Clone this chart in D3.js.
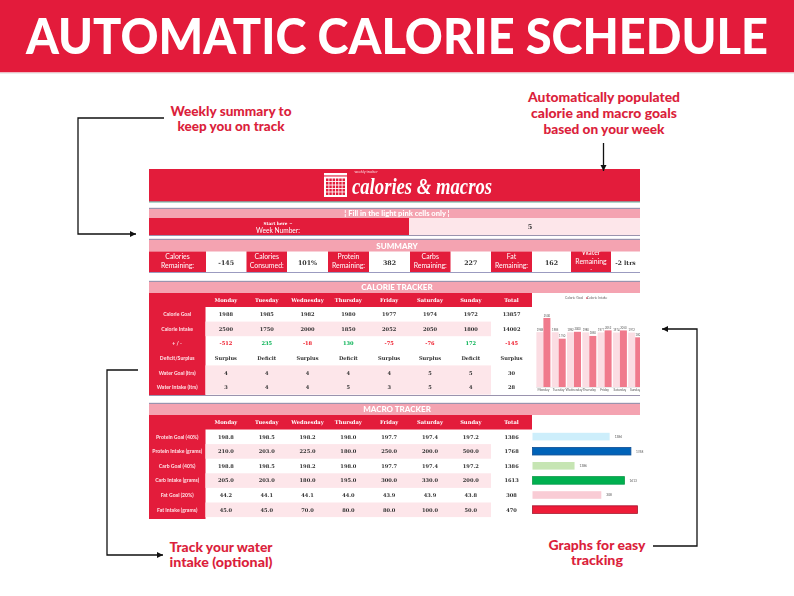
<!DOCTYPE html>
<html><head><meta charset="utf-8">
<script src="https://cdn.jsdelivr.net/npm/d3@7/dist/d3.min.js"></script>
<style>html,body{margin:0;padding:0;background:#fff}svg{display:block}</style></head>
<body><svg id="c" width="794" height="596"></svg>
<script>
const titleText = "AUTOMATIC CALORIE SCHEDULE";
const days = ["Monday","Tuesday","Wednesday","Thursday","Friday","Saturday","Sunday"];
const columns = [...days,"Total"];
const summaryLabels = [["Calories","Remaining:"],["Calories","Consumed:"],["Protein","Remaining:"],["Carbs","Remaining:"],["Fat","Remaining:"],["Water","Remaining",":"]];
const summaryValues = ["-145","101%","382","227","162","-2 ltrs"];
const calorieRowLabels = ["Calorie Goal","Calorie Intake","+ / -","Deficit/Surplus","Water Goal (ltrs)","Water Intake (ltrs)"];
const calorieGoal = [1988,1985,1982,1980,1977,1974,1972];
const calorieIntake = [2500,1750,2000,1850,2052,2050,1800];
const calorieDiff = [-512,235,-18,130,-75,-76,172,-145];
const calorieStatus = ["Surplus","Deficit","Surplus","Deficit","Surplus","Surplus","Deficit","Surplus"];
const waterGoal = [4,4,4,4,4,5,5,30];
const waterIntake = [3,4,4,5,3,5,4,28];
const calorieTotals = [13857,14002];
const macroRowLabels = ["Protein Goal (40%)","Protein Intake (grams)","Carb Goal (40%)","Carb Intake (grams)","Fat Goal (20%)","Fat Intake (grams)"];
const proteinGoal = ["198.8","198.5","198.2","198.0","197.7","197.4","197.2","1386"];
const proteinIntake = ["210.0","203.0","225.0","180.0","250.0","200.0","500.0","1768"];
const carbGoal = ["198.8","198.5","198.2","198.0","197.7","197.4","197.2","1386"];
const carbIntake = ["205.0","203.0","180.0","195.0","300.0","330.0","200.0","1613"];
const fatGoal = ["44.2","44.1","44.1","44.0","43.9","43.9","43.8","308"];
const fatIntake = ["45.0","45.0","70.0","80.0","80.0","100.0","50.0","470"];
const macroBarGroups = [0,0,1,1,2,2];
const macroBarValues = [1386,1768,737,1613,308,470];
const macroBarLabels = ["1386","1768","1386","1613","308",""];
const macroBarColors = ["#CDEEFB","#0563B8","#C6E5B3","#00B050","#F9CCD5","#EE1A37"];
const macroBarStrokes = ["none","#0B4F94","none","#0B9A4A","none","#A5182E"];
const macroGroupMax = [1768,1613,470];

const RED="#E31B3B", PINK="#F4A3B1", LIGHT="#FDE6EA", LINE="#9A93AE", ACC="#DB1F3C";
const svg=d3.select("#c");
const defs=svg.append("defs");
defs.append("filter").attr("id","soft").attr("filterUnits","userSpaceOnUse").attr("x",140).attr("y",160).attr("width",510).attr("height",370)
  .append("feGaussianBlur").attr("stdDeviation",0.3);
defs.append("clipPath").attr("id","sumclip").append("rect").attr("x",0).attr("y",251.5).attr("width",794).attr("height",20.5);
defs.append("clipPath").attr("id","chartclip").append("rect").attr("x",532).attr("y",293).attr("width",108).attr("height",102);
const BODY="Lato, sans-serif", SLAB="'DejaVu Serif', serif";
function rect(g,x,y,w,h,f){return g.append("rect").attr("x",x).attr("y",y).attr("width",w).attr("height",h).attr("fill",f);}
function text(g,x,y,s,size,fill,o={}){return g.append("text").attr("x",x).attr("y",y).text(s)
  .attr("font-size",size).attr("fill",fill).attr("font-family",o.font||BODY).attr("font-weight",o.w||400)
  .attr("text-anchor",o.a||"middle");}

// banner
rect(svg,0,0,794,72.5,RED);
rect(svg,0,72.5,794,1.5,"#ececec");
text(svg,0,0,titleText,46,"#fff",{w:900,a:"start"})
  .attr("transform","translate(26,53.5) scale(1,1.09)")
  .attr("textLength",742).attr("lengthAdjust","spacingAndGlyphs");

// sheet
const X0=149,X1=640,W=X1-X0;
const sheet=svg.append("g").attr("filter","url(#soft)");

rect(sheet,X0,169,W,32,RED);
rect(sheet,X0,201,W,1,"#9a8a8f");
rect(sheet,X0,202,W,.8,"#9fcfc0");
text(sheet,366,172.5,"weekly tracker",3.6,"#fbdce2");
// calendar icon
const cal=sheet.append("g");
rect(cal,324,173,23,2.4,"#fff");
rect(cal,324,176.5,23,20.5,"#fff");
const cx=d3.scaleBand().domain(d3.range(6)).range([326,345]).paddingInner(.25);
const cy=d3.scaleBand().domain(d3.range(5)).range([178.5,195]).paddingInner(.25);
d3.range(5).forEach(r=>d3.range(6).forEach(c=>rect(cal,cx(c),cy(r),cx.bandwidth(),cy.bandwidth(),RED)));
text(sheet,352,194,"calories & macros",23,"#fff",{font:"'Liberation Serif',serif",w:700,a:"start"}).attr("font-style","italic").attr("textLength",140).attr("lengthAdjust","spacingAndGlyphs");

// section bands
function band(y,h,label,size){
  rect(sheet,X0,y-1.2,W,1.2,LINE);
  rect(sheet,X0,y,W,h,PINK);
  if(label) text(sheet,397,y+h/2+size*.36,label,size,"#fff",{w:900});
}
band(209,9,"¦ Fill in the light pink cells only ¦",7.6);
rect(sheet,X0,218,260,17,RED);
rect(sheet,409,218,231,17,LIGHT);
rect(sheet,X0,235,W,1,LINE);
text(sheet,278,225,"Start here ~",4.2,"#fff",{font:SLAB,w:700});
text(sheet,278,232.5,"Week Number:",6.6,"#fff");
text(sheet,530,228.5,"5",6.5,"#333",{font:SLAB,w:700});

band(240,11.5,"SUMMARY",8);
const cellEdges=[149,206,246.5,287,328,369,410,450.5,491,532,571,611,640];
summaryLabels.forEach((ls,i)=>{
  const a=cellEdges[i*2],b=cellEdges[i*2+1],c=cellEdges[i*2+2];
  rect(sheet,a,251.5,b-a,20.5,RED);
  const m=(a+b)/2;
  const y0=ls.length==3?255:258.8;
  const lab=sheet.append("g").attr("clip-path","url(#sumclip)");
  ls.forEach((l,k)=>text(lab,m,y0+k*9,l,6.9,"#fff"));
  text(sheet,(b+c)/2,264.5,summaryValues[i],i==5?6:6.3,"#333",{font:SLAB,w:700});
});
rect(sheet,X0,272,W,1,"#9b9bc0");

// tables
const xCol=d3.scaleBand().domain(columns).range([205.5,532]);
function table(top,hdrH,rowLabels,rows,pinkRows,bottom){
  const yRow=d3.scaleBand().domain(d3.range(6)).range([top+hdrH,top+hdrH+14.6*6]);
  rect(sheet,X0,top,383,hdrH,RED);
  rect(sheet,X0,top,56.5,bottom-top,RED);
  sheet.append("g").selectAll("text").data(columns).join("text")
    .attr("x",d=>xCol(d)+xCol.bandwidth()/2).attr("y",top+hdrH/2+2)
    .attr("text-anchor","middle").attr("font-family",SLAB).attr("font-weight",700).attr("font-size",5.2).attr("fill","#fff").text(d=>d);
  pinkRows.forEach(r=>rect(sheet,205.5,yRow(r),285.5,yRow.bandwidth(),LIGHT));
  rowLabels.forEach((l,r)=>{
    const y=yRow(r)+yRow.bandwidth()/2+1.8;
    text(sheet,177.2,y,l,5.1,"#fdd6dc",{w:900});
    sheet.append("g").selectAll("text").data(rows[r].vals).join("text")
      .attr("x",(d,i)=>xCol(columns[i])+xCol.bandwidth()/2).attr("y",y)
      .attr("text-anchor","middle").attr("font-family",SLAB).attr("font-weight",700).attr("font-size",5.1)
      .attr("fill",d=>rows[r].color?rows[r].color(d):"#333").text(d=>d);
  });
  return yRow;
}
band(282,11,"CALORIE TRACKER",8);
table(293,14,calorieRowLabels,[
  {vals:[...calorieGoal,calorieTotals[0]]},
  {vals:[...calorieIntake,calorieTotals[1]]},
  {vals:calorieDiff,color:d=>d<0?"#EE1122":"#00B050"},
  {vals:calorieStatus},
  {vals:waterGoal},
  {vals:waterIntake}],[1,4,5],395);
rect(sheet,X0,395,W,1,LINE);

band(404,11,"MACRO TRACKER",8);
const yMacro=table(415,14.5,macroRowLabels,[proteinGoal,proteinIntake,carbGoal,carbIntake,fatGoal,fatIntake].map(v=>({vals:v})),[1,3,5],519);

// calorie chart
const chart=sheet.append("g").attr("clip-path","url(#chartclip)");
const x0=d3.scaleBand().domain(days).range([536.4,536.4+15.3*7]);
const x1=d3.scaleBand().domain(["g","i"]).range([0,14]);
const yCal=d3.scaleLinear().domain([0,3000]).range([387,304.2]);
const gs=chart.selectAll("g.day").data(days).join("g").attr("class","day").attr("transform",d=>`translate(${x0(d)},0)`);
gs.append("rect").attr("x",x1("g")).attr("width",x1.bandwidth()).attr("y",(d,i)=>yCal(calorieGoal[i])).attr("height",(d,i)=>yCal(0)-yCal(calorieGoal[i])).attr("fill","#FBDDE3");
gs.append("rect").attr("x",x1("i")).attr("width",x1.bandwidth()).attr("y",(d,i)=>yCal(calorieIntake[i])).attr("height",(d,i)=>yCal(0)-yCal(calorieIntake[i])).attr("fill","#F07A8C");
const tiny=(sel)=>sel.attr("text-anchor","middle").attr("font-family",BODY).attr("font-size",2.7).attr("fill","#555");
gs.append("text").attr("x",x1("g")+3.5).attr("y",(d,i)=>yCal(calorieGoal[i])-1.5).text((d,i)=>calorieGoal[i]).call(tiny);
gs.append("text").attr("x",x1("i")+3.5).attr("y",(d,i)=>yCal(calorieIntake[i])-1.5).text((d,i)=>calorieIntake[i]).call(tiny);
gs.append("text").attr("x",7).attr("y",391).text(d=>d).call(tiny).attr("font-size",3.3);
rect(chart,536,387,104,.4,"#ccc");
text(sheet,574,299.2,"Calorie Goal",3.4,"#666");
rect(sheet,586,297.2,1.8,1.8,"#F07A8C");
text(sheet,597,299.2,"Calorie Intake",3.4,"#666");

// macro bars
const xMacro=macroGroupMax.map((m,i)=>d3.scaleLinear().domain([0,m]).range([0,[98.4,92,105][i]]));
const bars=sheet.append("g").selectAll("g").data(macroBarValues).join("g")
  .attr("transform",(d,i)=>`translate(532.5,${yMacro(i)+yMacro.bandwidth()/2-4})`);
bars.append("rect").attr("width",(d,i)=>xMacro[macroBarGroups[i]](d)).attr("height",7.6)
  .attr("fill",(d,i)=>macroBarColors[i]).attr("stroke",(d,i)=>macroBarStrokes[i]).attr("stroke-width",.8);
bars.append("text").attr("x",(d,i)=>xMacro[macroBarGroups[i]](d)+5).attr("y",5.2)
  .text((d,i)=>macroBarLabels[i]).attr("font-family",BODY).attr("font-size",3.2).attr("fill","#555");

// annotations
function note(lines,cx,ys,width){lines.forEach((l,i)=>text(svg,cx,ys[i],l,12.2,ACC,{w:900}).attr("textLength",width[i]).attr("lengthAdjust","spacingAndGlyphs"));}
note(["Weekly summary to","keep you on track"],231,[116,131],[121,107]);
note(["Automatically populated","calorie and macro goals","based on your week"],604,[102,118,134],[152,146,121]);
note(["Track your water","intake (optional)"],221,[552,567],[103,103]);
note(["Graphs for easy","tracking"],597,[550,565],[97,52]);

const line=d3.line();
function arrow(pts){
  svg.append("path").attr("d",line(pts)).attr("fill","none").attr("stroke","#111").attr("stroke-width",1.3);
  const [a,b]=pts.slice(-2),ang=Math.atan2(b[1]-a[1],b[0]-a[0]);
  const L=6,Wd=3;const p=[[b[0],b[1]],[b[0]-L*Math.cos(ang)-Wd*Math.sin(ang),b[1]-L*Math.sin(ang)+Wd*Math.cos(ang)],[b[0]-L*Math.cos(ang)+Wd*Math.sin(ang),b[1]-L*Math.sin(ang)-Wd*Math.cos(ang)]];
  svg.append("path").attr("d",line(p)+"Z").attr("fill","#111");
}
arrow([[164,118],[78,118],[78,234],[136,234]]);
arrow([[603.5,143],[603.5,171]]);
arrow([[138,370],[107,370],[107,555],[163,555]]);
arrow([[653,546],[697,546],[697,329],[662,329]]);
</script></body></html>
